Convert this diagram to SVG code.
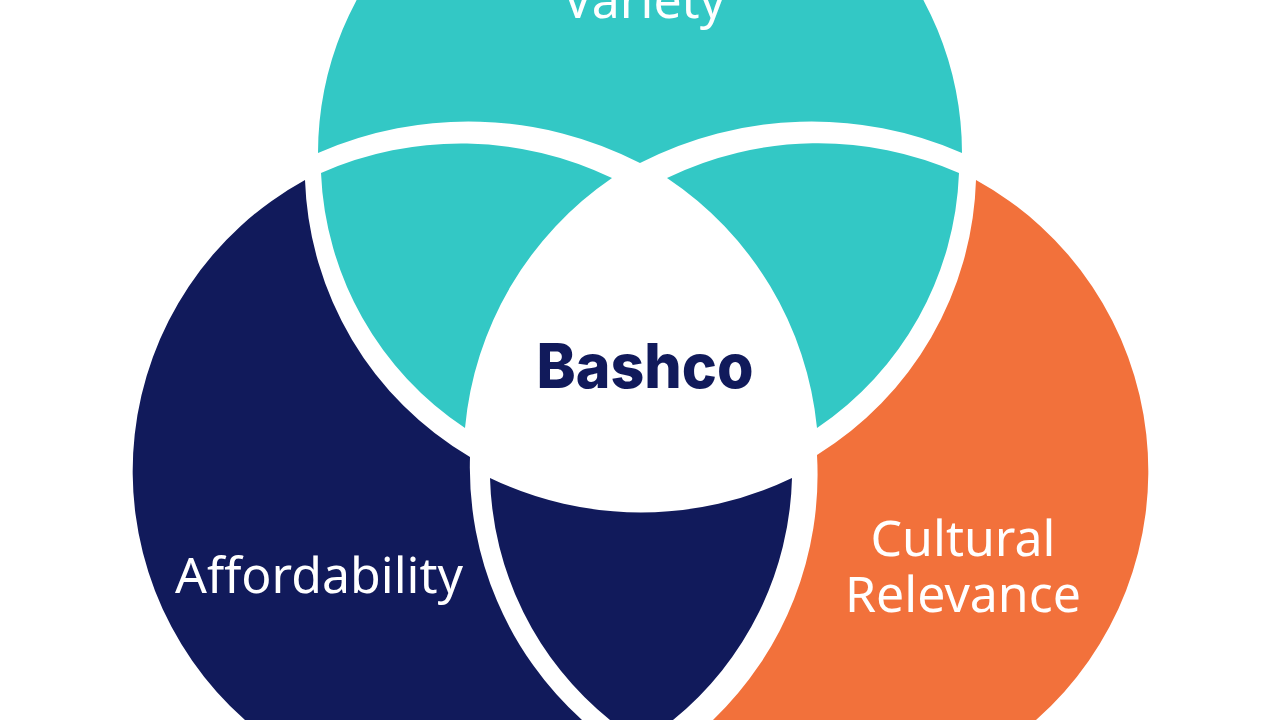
<svg xmlns="http://www.w3.org/2000/svg" width="1280" height="720" viewBox="0 0 1280 720">
<style>
.teal{fill:#33c8c5}.navy{fill:#111a5b}.orange{fill:#f2713b}
text{font-family:"Noto Sans","Open Sans",sans-serif;text-anchor:middle}
.l{fill:#fff;font-size:50px}
.c{fill:#111a5b;font-family:Inter,"Noto Sans",sans-serif;font-size:62px;font-weight:800}
</style>
<rect width="1280" height="720" fill="#fff"/>
<g id="variety">
<path class="teal" d="M318 153A322 322 0 1 1 962 153A375 375 0 0 0 640 163A375 375 0 0 0 318 153Z"/>
<path class="teal" d="M321 173A347 347 0 0 1 612 178A340 340 0 0 0 465 428A322 322 0 0 1 321 173Z"/>
<path class="teal" d="M959 173A347 347 0 0 0 667 178A340 340 0 0 1 817 428A322 322 0 0 0 959 173Z"/>
<text class="l" x="644" y="18">Variety</text>
</g>
<g id="affordability">
<path class="navy" d="M305 180A335 335 0 0 0 470 457A340 340 0 0 0 582 720L245 720A332 332 0 0 1 305 180Z"/>
<path class="navy" d="M490 478A348 348 0 0 0 792 478A322 322 0 0 1 673 720L610 720A322 322 0 0 1 490 478Z"/>
<text class="l" x="319" y="593">Affordability</text>
</g>
<g id="cultural">
<path class="orange" d="M976 180A332 332 0 0 1 1036 720L713 720A340 340 0 0 0 817 455A335 335 0 0 0 976 180Z"/>
<text class="l" x="963" y="556">Cultural</text>
<text class="l" x="963" y="612">Relevance</text>
</g>
<g id="center">
<text class="c" x="645" y="388" textLength="217" lengthAdjust="spacingAndGlyphs">Bashco</text>
</g>
</svg>
